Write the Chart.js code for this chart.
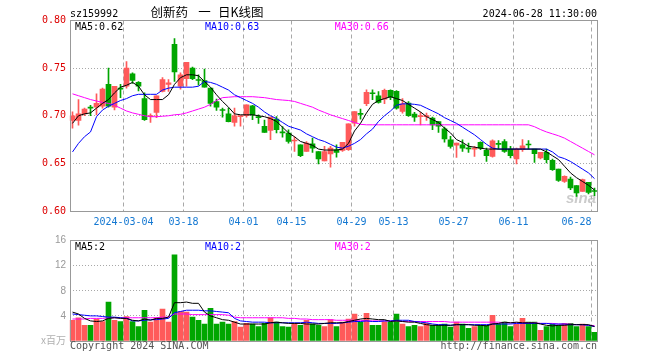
<!DOCTYPE html>
<html><head><meta charset="utf-8">
<script src="https://cdn.jsdelivr.net/npm/chart.js@4.4.1/dist/chart.umd.min.js"></script>
<style>
html,body{margin:0;padding:0;background:#fff;}
#wrap{position:relative;width:660px;height:360px;overflow:hidden;}
canvas{position:absolute;left:0;top:0;}
</style></head><body>
<div id="wrap"><canvas id="pc" width="660" height="360"></canvas><canvas id="vc" width="660" height="360"></canvas></div>
<script>
const dates = [
'2024-02-20','2024-02-21','2024-02-22','2024-02-23','2024-02-26','2024-02-27','2024-02-28','2024-02-29','2024-03-01',
'2024-03-04','2024-03-05','2024-03-06','2024-03-07','2024-03-08','2024-03-11','2024-03-12','2024-03-13','2024-03-14','2024-03-15',
'2024-03-18','2024-03-19','2024-03-20','2024-03-21','2024-03-22','2024-03-25','2024-03-26','2024-03-27','2024-03-28','2024-03-29',
'2024-04-01','2024-04-02','2024-04-03','2024-04-08','2024-04-09','2024-04-10','2024-04-11','2024-04-12',
'2024-04-15','2024-04-16','2024-04-17','2024-04-18','2024-04-19','2024-04-22','2024-04-23','2024-04-24','2024-04-25','2024-04-26',
'2024-04-29','2024-04-30','2024-05-06','2024-05-07','2024-05-08','2024-05-09','2024-05-10',
'2024-05-13','2024-05-14','2024-05-15','2024-05-16','2024-05-17','2024-05-20','2024-05-21','2024-05-22','2024-05-23','2024-05-24',
'2024-05-27','2024-05-28','2024-05-29','2024-05-30','2024-05-31','2024-06-03','2024-06-04','2024-06-05','2024-06-06','2024-06-07',
'2024-06-11','2024-06-12','2024-06-13','2024-06-14','2024-06-17','2024-06-18','2024-06-19','2024-06-20','2024-06-21',
'2024-06-24','2024-06-25','2024-06-26','2024-06-27','2024-06-28'];

const openP = [0.695,0.695,0.702,0.709,0.709,0.710,0.733,0.709,0.729,0.731,0.744,0.735,0.718,0.699,0.7035,0.7255,0.733,0.775,0.731,0.739,
0.750,0.738,0.737,0.729,0.715,0.7063,0.702,0.693,0.699,0.700,0.7105,0.6985,0.689,0.6845,0.6965,0.683,0.6818,0.6735,0.6695,0.6625,
0.6706,0.6625,0.6527,0.660,0.6643,0.6636,0.6643,0.6923,0.702,0.7126,0.7235,0.721,0.7175,0.7266,0.7256,0.7045,0.7133,0.7017,0.699,0.699,
0.6975,0.694,0.6863,0.6748,0.6692,0.6695,0.6657,0.665,0.672,0.6636,0.6573,0.6705,0.673,0.665,0.6546,0.665,0.6699,0.665,0.6556,0.6616,
0.6532,0.644,0.631,0.6336,0.6266,0.6206,0.630,0.6208];
const highP = [0.704,0.717,0.708,0.711,0.723,0.729,0.750,0.731,0.733,0.757,0.745,0.736,0.724,0.702,0.721,0.740,0.738,0.781,0.745,0.756,
0.751,0.743,0.749,0.729,0.7175,0.708,0.708,0.708,0.700,0.7115,0.711,0.701,0.6955,0.6985,0.699,0.6885,0.6853,0.678,0.6695,0.673,
0.6765,0.6625,0.6678,0.668,0.6695,0.672,0.6916,0.7045,0.707,0.7273,0.7273,0.7255,0.728,0.7273,0.7263,0.7179,0.715,0.7035,0.7035,0.7028,
0.6986,0.694,0.688,0.6783,0.6713,0.6748,0.6713,0.6678,0.6727,0.666,0.6748,0.674,0.675,0.668,0.666,0.6749,0.674,0.665,0.6616,0.665,
0.6546,0.644,0.637,0.6357,0.6266,0.6335,0.630,0.6241];
const lowP = [0.687,0.690,0.700,0.700,0.701,0.708,0.709,0.706,0.719,0.729,0.734,0.726,0.695,0.693,0.698,0.725,0.7255,0.736,0.728,0.731,
0.738,0.732,0.730,0.710,0.7055,0.6985,0.6935,0.689,0.689,0.6985,0.696,0.692,0.6825,0.675,0.682,0.6775,0.6713,0.6625,0.657,0.6625,
0.6615,0.6495,0.6527,0.646,0.6566,0.6625,0.6636,0.689,0.6965,0.7105,0.7168,0.7133,0.7126,0.717,0.707,0.7028,0.6993,0.694,0.6905,0.695,
0.6853,0.6825,0.6723,0.666,0.6562,0.6625,0.6615,0.6573,0.6643,0.652,0.6566,0.665,0.6615,0.6556,0.6493,0.6626,0.665,0.651,0.6546,0.6504,
0.6427,0.631,0.630,0.6224,0.6154,0.6206,0.618,0.616];
const closeP = [0.700,0.702,0.707,0.708,0.713,0.728,0.710,0.731,0.728,0.750,0.737,0.731,0.696,0.700,0.721,0.738,0.7345,0.746,0.743,0.756,
0.739,0.737,0.730,0.713,0.709,0.7055,0.6937,0.700,0.700,0.7115,0.701,0.698,0.6825,0.6985,0.6855,0.682,0.673,0.6745,0.658,0.6713,
0.666,0.6548,0.6625,0.666,0.6615,0.672,0.6916,0.7045,0.7015,0.7245,0.7231,0.714,0.7266,0.7196,0.708,0.7126,0.700,0.6986,0.700,0.7003,
0.6905,0.689,0.6758,0.6678,0.6713,0.666,0.6653,0.6657,0.666,0.658,0.6737,0.670,0.6626,0.658,0.665,0.6685,0.6693,0.6602,0.6616,0.6539,
0.6434,0.632,0.6363,0.6241,0.6189,0.6329,0.6195,0.6205];

const ma5 = [0.692,0.700,0.702,0.703,0.708,0.713,0.717,0.724,0.730,0.732,0.735,0.731,0.722,0.717,0.717,0.717,0.722,0.733,0.740,0.743,
0.743,0.742,0.736,0.730,0.722,0.715,0.709,0.702,0.701,0.701,0.701,0.700,0.699,0.697,0.694,0.688,0.682,0.678,0.673,0.671,
0.669,0.665,0.664,0.664,0.664,0.665,0.671,0.684,0.692,0.703,0.712,0.716,0.718,0.720,0.718,0.716,0.712,0.708,0.704,0.699,
0.696,0.693,0.687,0.682,0.675,0.672,0.668,0.667,0.666,0.665,0.665,0.665,0.665,0.665,0.665,0.665,0.665,0.665,0.665,0.662,
0.658,0.654,0.647,0.640,0.635,0.631,0.627,0.622];
const ma10 = [0.662,0.671,0.678,0.683,0.699,0.706,0.710,0.713,0.716,0.718,0.721,0.7225,0.7225,0.7225,0.7225,0.727,0.729,0.730,0.730,0.730,
0.730,0.731,0.736,0.735,0.733,0.730,0.727,0.722,0.719,0.716,0.713,0.709,0.704,0.700,0.697,0.693,0.689,0.687,0.685,0.681,
0.678,0.675,0.673,0.670,0.667,0.666,0.668,0.671,0.675,0.681,0.686,0.694,0.700,0.705,0.711,0.7125,0.7125,0.712,0.711,0.708,
0.705,0.702,0.698,0.695,0.692,0.688,0.684,0.680,0.675,0.670,0.666,0.665,0.665,0.665,0.665,0.665,0.665,0.665,0.665,0.665,
0.662,0.657,0.655,0.652,0.648,0.644,0.640,0.634];
const ma30 = [0.723,0.721,0.719,0.717,0.7155,0.714,0.713,0.711,0.708,0.705,0.703,0.7015,0.700,0.699,0.699,0.6995,0.700,0.701,0.7015,0.703,
0.705,0.707,0.709,0.712,0.716,0.719,0.7195,0.720,0.720,0.720,0.720,0.7195,0.719,0.718,0.717,0.7165,0.716,0.715,0.713,0.711,
0.709,0.706,0.7035,0.701,0.699,0.697,0.695,0.693,0.691,0.6905,0.6905,0.6905,0.6905,0.6905,0.6905,0.6905,0.6905,0.6905,0.6905,0.6905,
0.6905,0.6905,0.6905,0.6905,0.6905,0.6905,0.6905,0.6905,0.6905,0.6905,0.6905,0.6905,0.6905,0.6905,0.6905,0.6905,0.6905,0.6885,0.6855,0.683,
0.681,0.679,0.6765,0.673,0.6695,0.666,0.6625,0.659];

const vol = [3.3,3.7,2.5,2.5,3.5,3.1,6.2,3.3,3.1,3.9,3.1,2.3,4.9,3.0,3.7,5.1,3.0,13.7,4.7,4.6,
3.8,3.3,2.7,5.2,2.7,3.0,2.7,3.1,2.2,2.8,2.7,2.3,2.8,3.7,3.0,2.3,2.2,2.8,2.5,3.3,
2.7,2.5,2.3,3.4,2.3,3.0,3.5,4.3,3.0,4.4,2.5,2.5,3.1,3.0,4.3,2.7,2.3,2.5,2.3,2.8,
2.5,2.5,2.7,2.2,3.0,2.7,2.0,2.3,2.5,2.5,4.1,2.7,3.0,2.3,2.7,3.6,3.0,3.0,1.7,2.3,
2.7,2.5,2.8,2.8,2.3,2.7,2.3,1.4];
const vma5 = [4.6,4.3,3.6,3.2,3.1,3.2,3.6,3.7,3.6,3.6,3.3,3.2,3.5,3.3,3.6,3.6,3.8,6.1,6.1,6.2,
6.0,6.0,4.6,4.0,3.7,3.4,3.3,3.0,2.7,2.7,2.7,2.7,2.7,2.9,3.0,2.9,2.8,2.8,2.8,2.7,
2.7,2.7,2.8,2.9,2.9,2.9,3.1,3.3,3.5,3.6,3.5,3.4,3.4,3.1,3.2,3.1,3.0,3.0,2.8,2.6,
2.5,2.5,2.5,2.5,2.6,2.6,2.6,2.5,2.5,2.4,2.7,2.8,3.0,2.9,3.0,2.9,2.9,2.9,2.7,2.5,
2.4,2.5,2.5,2.6,2.6,2.6,2.6,2.3];
const vma10 = [4.3,4.2,4.1,4.0,4.0,3.9,3.8,3.8,3.7,3.6,3.2,3.2,3.3,3.4,3.4,3.5,3.6,4.5,4.7,4.9,
4.9,4.9,4.8,4.8,4.7,4.6,4.5,3.6,3.2,3.1,3.0,3.0,3.0,2.9,2.9,2.9,2.9,2.9,2.9,3.0,
2.9,2.8,2.8,2.8,2.8,2.9,3.0,3.1,3.1,3.2,3.1,3.1,3.2,3.2,3.3,3.3,3.3,3.1,3.0,2.9,
2.7,2.6,2.6,2.5,2.6,2.6,2.6,2.6,2.6,2.6,2.7,2.7,2.7,2.7,2.8,2.8,2.8,2.8,2.8,2.8,
2.7,2.7,2.7,2.6,2.6,2.6,2.5,2.3];
const vma30 = [3.5,3.5,3.5,3.6,3.6,3.6,3.7,3.7,3.7,3.7,3.7,3.7,3.7,3.7,3.7,3.8,3.8,4.3,4.3,4.3,
4.2,4.2,4.2,4.2,4.2,4.2,4.1,3.8,3.7,3.7,3.7,3.7,3.7,3.7,3.7,3.7,3.6,3.6,3.5,3.5,
3.4,3.4,3.4,3.4,3.3,3.3,3.3,3.3,3.3,3.2,3.2,3.2,3.2,3.2,3.2,3.1,3.1,3.1,3.1,3.1,
3.1,3.1,3.1,3.0,3.0,3.0,3.0,3.0,3.0,3.0,3.0,3.0,2.9,2.9,2.9,2.9,2.9,2.9,2.8,2.8,
2.8,2.7,2.7,2.7,2.6,2.6,2.5,2.45];

const tickDates = ['2024-03-04','2024-03-18','2024-04-01','2024-04-15','2024-04-29','2024-05-13','2024-05-27','2024-06-11','2024-06-28'];
const tickLabels = ['2024-03-04','03-18','04-01','04-15','04-29','05-13','05-27','06-11','06-28     '];
const priceTicks = [0.60,0.65,0.70,0.75,0.80];
const volTicks = [4,8,12,16];

const RED = '#ff5a5a', GREEN = '#00a600';
const GRID = '#a8a8a8', FRAME = '#999999';
const MONO = "'DejaVu Sans Mono', monospace";
const candleColors = closeP.map((c, i) => c >= openP[i] ? RED : GREEN);

Chart.defaults.animation = false;
Chart.defaults.events = [];
Chart.defaults.font.family = MONO;
Chart.defaults.font.size = 10;

function frame(chart) {
  const {ctx, chartArea: a} = chart;
  ctx.save();
  ctx.strokeStyle = FRAME; ctx.lineWidth = 1;
  const l = Math.round(a.left) + 0.5, t = Math.floor(a.top) + 0.5;
  const r = Math.floor(a.right) + 0.5, b = Math.floor(a.bottom) + 0.5;
  ctx.strokeRect(l, t, r - l, b - t);
  ctx.restore();
}
function txt(ctx, s, x, y, color, font, align) {
  ctx.fillStyle = color; ctx.font = font; ctx.textAlign = align || 'left';
  ctx.textBaseline = 'alphabetic'; ctx.fillText(s, x, y);
}

const xGridColor = c => (c.index < dates.length && tickDates.includes(dates[c.index])) ? GRID : 'rgba(0,0,0,0)';

const pricePlugin = {
  id: 'priceDeco',
  beforeDatasetsDraw(chart) {
    const ctx = chart.ctx;
    ctx.save();
    txt(ctx, 'sina', 566, 203, 'rgba(185,185,185,0.75)', "italic bold 15px 'Liberation Sans', sans-serif");
    ctx.restore();
  },
  afterDraw(chart) {
    const ctx = chart.ctx;
    frame(chart);
    ctx.save();
    txt(ctx, 'sz159992', 70, 17, '#000', "10px " + MONO);
    const cjk = "12.5px 'Noto Sans CJK SC', sans-serif";
    txt(ctx, '创新药', 150.5, 17, '#000', cjk);
    txt(ctx, '一', 198.3, 17, '#000', cjk);
    txt(ctx, '日K线图', 218, 17, '#000', cjk);
    txt(ctx, '2024-06-28 11:30:00', 597, 16.5, '#000', "10px " + MONO, 'right');
    txt(ctx, 'MA5:' + ma5[ma5.length - 1].toFixed(2), 75, 29.5, '#000', "10px " + MONO);
    txt(ctx, 'MA10:' + ma10[ma10.length - 1].toFixed(2), 205, 29.5, '#0000ff', "10px " + MONO);
    txt(ctx, 'MA30:' + ma30[ma30.length - 1].toFixed(2), 334.7, 29.5, '#ff00ff', "10px " + MONO);
    ctx.restore();
  }
};

new Chart(document.getElementById('pc'), {
  type: 'bar',
  data: {
    labels: dates,
    datasets: [
      {type: 'line', label: 'MA5', data: ma5, borderColor: '#000', borderWidth: 1, pointRadius: 0, tension: 0, order: 0},
      {type: 'line', label: 'MA10', data: ma10, borderColor: '#0000ff', borderWidth: 1, pointRadius: 0, tension: 0, order: 0},
      {type: 'line', label: 'MA30', data: ma30, borderColor: '#ff00ff', borderWidth: 1, pointRadius: 0, tension: 0, order: 0},
      {label: 'body', data: openP.map((o, i) => [o, closeP[i]]), backgroundColor: candleColors, borderWidth: 0,
       barThickness: 5, grouped: false, minBarLength: 1, order: 1},
      {label: 'wick', data: lowP.map((l, i) => [l, highP[i]]), backgroundColor: candleColors, borderWidth: 0,
       barThickness: 1, grouped: false, order: 2}
    ]
  },
  options: {
    responsive: false,
    layout: {padding: {left: 0, right: 62.5, top: 20.5, bottom: 128}},
    plugins: {legend: {display: false}, tooltip: {enabled: false}},
    scales: {
      x: {
        type: 'category', offset: true,
        grid: {offset: true, color: xGridColor, drawTicks: false, lineWidth: 1},
        border: {display: false, dash: [4, 3]},
        ticks: {autoSkip: false, maxRotation: 0, minRotation: 0, padding: 5, labelOffset: -3,
          color: '#1478d2', font: {family: MONO, size: 10},
          callback: (v, i) => { const k = tickDates.indexOf(dates[i]); return k >= 0 ? tickLabels[k] : ''; }},
        afterFit: s => { s.height = 21; }
      },
      y: {
        min: 0.6, max: 0.8,
        afterBuildTicks: s => { s.ticks = priceTicks.map(v => ({value: v})); },
        grid: {drawTicks: false, lineWidth: 1,
          color: c => (c.tick && c.tick.value > 0.601 && c.tick.value < 0.799) ? GRID : 'rgba(0,0,0,0)'},
        border: {display: false, dash: [1, 2]},
        ticks: {padding: 3.5, color: '#dd0000', font: {family: MONO, size: 10},
          callback: v => Number(v).toFixed(2)},
        afterFit: s => { s.width = 69.5; }
      }
    }
  },
  plugins: [pricePlugin]
});

const volPlugin = {
  id: 'volDeco',
  afterDraw(chart) {
    const ctx = chart.ctx;
    frame(chart);
    ctx.save();
    txt(ctx, 'MA5:' + Math.round(vma5[vma5.length - 1]), 75, 250, '#000', "10px " + MONO);
    txt(ctx, 'MA10:' + Math.round(vma10[vma10.length - 1]), 205, 250, '#0000ff', "10px " + MONO);
    txt(ctx, 'MA30:' + Math.round(vma30[vma30.length - 1]), 334.7, 250, '#ff00ff', "10px " + MONO);
    txt(ctx, 'x百万', 66, 344, '#b0b0b0', "10px 'Noto Sans CJK SC', sans-serif", 'right');
    txt(ctx, 'Copyright 2024 SINA.COM', 70, 349, '#555', "10px " + MONO);
    txt(ctx, 'http://finance.sina.com.cn', 597, 349, '#555', "10px " + MONO, 'right');
    ctx.restore();
  }
};

new Chart(document.getElementById('vc'), {
  type: 'bar',
  data: {
    labels: dates,
    datasets: [
      {type: 'line', label: 'MA5', data: vma5, borderColor: '#000', borderWidth: 1, pointRadius: 0, tension: 0, order: 0},
      {type: 'line', label: 'MA10', data: vma10, borderColor: '#0000ff', borderWidth: 1, pointRadius: 0, tension: 0, order: 0},
      {type: 'line', label: 'MA30', data: vma30, borderColor: '#ff00ff', borderWidth: 1, pointRadius: 0, tension: 0, order: 0},
      {label: 'volume', data: vol, backgroundColor: candleColors, borderWidth: 0, barThickness: 5, grouped: false, order: 1}
    ]
  },
  options: {
    responsive: false,
    layout: {padding: {left: 0, right: 62.5, top: 240.5, bottom: 19}},
    plugins: {legend: {display: false}, tooltip: {enabled: false}},
    scales: {
      x: {
        type: 'category', offset: true,
        grid: {offset: true, color: xGridColor, drawTicks: false, lineWidth: 1},
        border: {display: false, dash: [4, 3]},
        ticks: {display: false},
        afterFit: s => { s.height = 0; }
      },
      y: {
        min: 0, max: 16,
        afterBuildTicks: s => { s.ticks = [0].concat(volTicks).map(v => ({value: v})); },
        grid: {drawTicks: false, lineWidth: 1,
          color: c => (c.tick && c.tick.value > 0 && c.tick.value < 16) ? GRID : 'rgba(0,0,0,0)'},
        border: {display: false, dash: [1, 2]},
        ticks: {padding: 3.5, color: '#999', font: {family: "'Liberation Sans', sans-serif", size: 10},
          callback: v => v === 0 ? '' : String(v)},
        afterFit: s => { s.width = 69.5; }
      }
    }
  },
  plugins: [volPlugin]
});
</script>
</body></html>
